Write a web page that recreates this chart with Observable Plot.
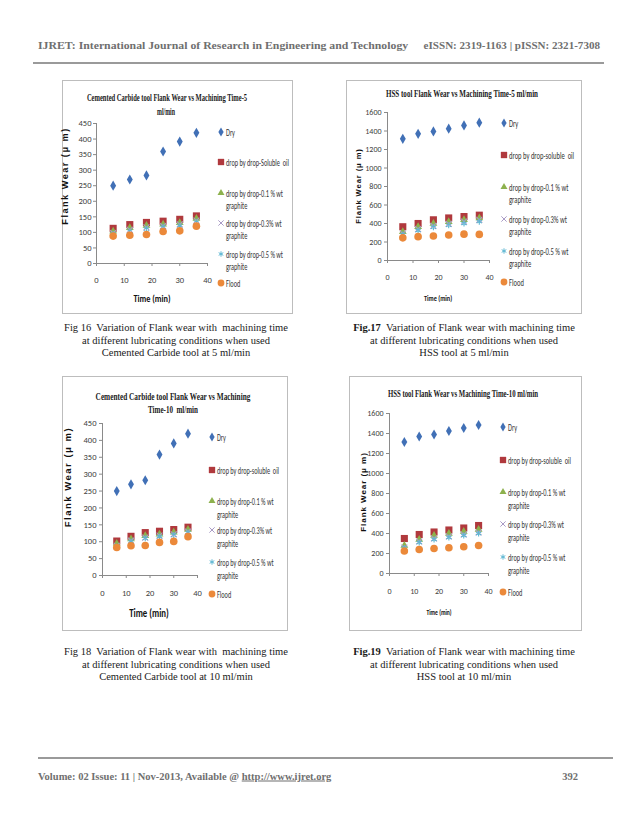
<!DOCTYPE html>
<html><head><meta charset="utf-8">
<script src="https://cdn.jsdelivr.net/npm/d3@7"></script>
<script src="https://cdn.jsdelivr.net/npm/@observablehq/plot@0.6"></script>
<style>
html,body{margin:0;padding:0;background:#fff;}
#page{position:relative;width:638px;height:826px;overflow:hidden;background:#fff;}
.a{position:absolute;white-space:pre;line-height:1;}
</style></head><body><div id="page"></div>
<script>
// ---------- data ----------
const time = [6, 12, 18, 24, 30, 36];
const xTicks = [0, 10, 20, 30, 40];

// Fig 16: Cemented Carbide, 5 ml/min
const cc5Dry   = [250, 270, 283, 360, 392, 420];
const cc5Oil   = [113, 125, 132, 136, 142, 153];
const cc5G01   = [104, 115, 122, 126, 131, 145];
const cc5G03   = [98, 108, 116, 120, 126, 138];
const cc5G05   = [95, 104, 111, 117, 121, 133];
const cc5Flood = [88, 91, 93, 103, 105, 120];

// Fig 17: HSS, 5 ml/min
const hss5Dry   = [1315, 1370, 1395, 1425, 1460, 1490];
const hss5Oil   = [365, 400, 440, 460, 475, 490];
const hss5G01   = [310, 365, 400, 420, 440, 460];
const hss5G03   = [290, 340, 375, 395, 420, 440];
const hss5G05   = [280, 325, 360, 380, 400, 420];
const hss5Flood = [245, 258, 265, 275, 285, 282];

// Fig 18: Cemented Carbide, 10 ml/min
const cc10Dry   = [250, 270, 282, 358, 391, 420];
const cc10Oil   = [102, 116, 127, 131, 136, 143];
const cc10G01   = [95, 108, 118, 122, 128, 136];
const cc10G03   = [88, 103, 112, 118, 122, 130];
const cc10G05   = [85, 100, 110, 115, 120, 127];
const cc10Flood = [83, 88, 89, 98, 101, 115];

// Fig 19: HSS, 10 ml/min
const hss10Dry   = [1315, 1370, 1390, 1425, 1455, 1485];
const hss10Oil   = [350, 390, 415, 435, 455, 480];
const hss10G01   = [280, 340, 380, 400, 420, 440];
const hss10G03   = [260, 320, 350, 370, 390, 410];
const hss10G05   = [255, 310, 340, 360, 380, 400];
const hss10Flood = [225, 240, 250, 258, 268, 280];

const ccTicks  = [0, 50, 100, 150, 200, 250, 300, 350, 400, 450];
const hssTicks = [0, 200, 400, 600, 800, 1000, 1200, 1400, 1600];

const legendUpper = ["Dry", "drop by drop-Soluble  oil", ["drop by drop-0.1 % wt", "graphite"], ["drop by drop-0.3% wt", "graphite"], ["drop by drop-0.5 % wt", "graphite"], "Flood"];
const legendLower = ["Dry", "drop by drop-soluble  oil", ["drop by drop-0.1 % wt", "graphite"], ["drop by drop-0.3% wt", "graphite"], ["drop by drop-0.5 % wt", "graphite"], "Flood"];

// ---------- styles ----------
const seriesStyle = [
  {symbol: "diamond",  color: "#4170b6", r: 3.1, filled: true},
  {symbol: "square",   color: "#b0393d", r: 4.0, filled: true},
  {symbol: "triangle", color: "#8db14d", r: 2.9, filled: true},
  {symbol: "times",    color: "#a99bc6", r: 2.8, filled: false},
  {symbol: "asterisk", color: "#5cb6d2", r: 2.8, filled: false},
  {symbol: "circle",   color: "#eb893a", r: 3.8, filled: true}
];
const symMap = {diamond: d3.symbolDiamond, square: d3.symbolSquare, triangle: d3.symbolTriangle,
  times: d3.symbolTimes, asterisk: d3.symbolAsterisk, circle: d3.symbolCircle};

const page = document.getElementById("page");
const NARROW = 'Carlito,Roboto,"Liberation Sans",sans-serif';
const SERIF = '"Liberation Serif","Times New Roman",serif';
const SANS = '"Liberation Sans",Arial,sans-serif';

function T(x, y, s, css, anchor = "start", fitW = null, rot = false, kFixed = null) {
  const d = document.createElement("div");
  d.className = "a";
  d.textContent = s;
  Object.assign(d.style, css);
  d.style.left = x + "px";
  d.style.top = y + "px";
  page.appendChild(d);
  const tx = anchor === "middle" ? "-50%" : anchor === "end" ? "-100%" : "0";
  let k = 1;
  if (fitW) k = fitW / d.offsetWidth;
  if (kFixed) k = kFixed;
  d.style.transformOrigin = anchor === "middle" ? "50% 50%" : anchor === "end" ? "100% 50%" : "0 50%";
  d.style.transform = `translate(${tx},-50%)` + (rot ? " rotate(-90deg)" : "") + ` scaleX(${k})`;
  return d;
}
function measure(s, css) {
  const d = document.createElement("div");
  d.className = "a"; d.textContent = s; Object.assign(d.style, css);
  d.style.visibility = "hidden";
  page.appendChild(d);
  const w = d.offsetWidth; d.remove(); return w;
}
function box(x, y, w, h) {
  const d = document.createElement("div");
  Object.assign(d.style, {position: "absolute", left: x + "px", top: y + "px", width: w + "px", height: h + "px",
    border: "1px solid #bdbdbd", boxSizing: "border-box"});
  page.appendChild(d);
}
function hr(x1, x2, y, c = "#9a9a9a", t = 1.6) {
  const d = document.createElement("div");
  Object.assign(d.style, {position: "absolute", left: x1 + "px", top: y + "px", width: (x2 - x1) + "px", height: t + "px", background: c});
  page.appendChild(d);
}
function marker(x, y, st) {
  const svg = d3.create("svg").attr("width", 12).attr("height", 12)
    .style("position", "absolute").style("left", (x - 6) + "px").style("top", (y - 6) + "px").style("overflow", "visible");
  svg.append("path").attr("transform", "translate(6,6)")
    .attr("d", d3.symbol(symMap[st.symbol], st.r * st.r * Math.PI * 0.8)())
    .attr("fill", st.filled ? st.color : "none")
    .attr("stroke", st.filled ? "none" : st.color).attr("stroke-width", 1);
  page.appendChild(svg.node());
}

function drawChart(c) {
  box(...c.box);
  c.titles.forEach(([s, x, y, w]) => T(x, y, s, {font: `bold ${c.titleSize}px ${SERIF}`, color: "#1a1a1a"}, "middle", w));
  const mL = 30, mR = 4, mT = 6, mB = 26;
  const w = c.x40 - c.x0, h = c.y0 - c.yTop;
  const marks = [
    Plot.ruleY([0], {stroke: "#8a8a8a"}),
    Plot.ruleX([0], {stroke: "#8a8a8a"}),
    Plot.axisX({ticks: xTicks, tickSize: 3, tickPadding: c.xPad, stroke: "#8a8a8a", tickFormat: d3.format("d"), label: null}),
    Plot.axisY({ticks: c.yTicks, tickSize: 3, tickPadding: c.yPad, stroke: "#8a8a8a", tickFormat: d3.format("d"), label: null})
  ];
  c.series.forEach((vals, i) => {
    const st = seriesStyle[i];
    const data = time.map((t, j) => ({t, v: vals[j]}));
    marks.push(Plot.dot(data, {x: "t", y: "v", symbol: st.symbol, r: st.r,
      fill: st.filled ? st.color : "none", stroke: st.filled ? "none" : st.color, strokeWidth: 1.1}));
  });
  const svg = Plot.plot({
    width: w + mL + mR, height: h + mT + mB,
    marginLeft: mL, marginRight: mR, marginTop: mT, marginBottom: mB,
    x: {domain: [0, 40]}, y: {domain: [0, c.yTicks[c.yTicks.length - 1]]},
    style: {fontFamily: NARROW, fontSize: c.tickSize + "px", color: "#404040", background: "transparent", overflow: "visible"},
    marks
  });
  svg.style.position = "absolute";
  svg.style.left = (c.x0 - mL) + "px";
  svg.style.top = (c.yTop - mT) + "px";
  page.appendChild(svg);
  // axis titles
  T(c.ylab[0], c.ylab[1], "Flank Wear (\u03bc m)", {font: `bold ${c.ylabSize}px ${SANS}`, letterSpacing: c.ylabLS + "px", color: "#111"}, "middle", c.ylab[2], true);
  T(c.xlab[0], c.xlab[1], "Time (min)", {font: `bold ${c.xlabSize}px ${NARROW}`, color: "#111"}, "middle", c.xlab[2]);
  // legend
  const legCss = {font: `${c.legSize}px ${NARROW}`, color: "#333"};
  const k = c.legRefW / measure(c.legend[1], legCss);
  c.legend.forEach((lab, i) => {
    const y = c.legY[i];
    marker(c.legX, y, seriesStyle[i]);
    const lines = Array.isArray(lab) ? lab : [lab];
    lines.forEach((s, j) => T(c.legX + 5, y + j * c.legLine, s, legCss, "start", null, false, k));
  });
}

// ---------- page header ----------
T(38, 45, "IJRET: International Journal of Research in Engineering and Technology", {font: `bold 11px ${SERIF}`, color: "#6f6f6f"}, "start", 370);
T(600, 45, "eISSN: 2319-1163 | pISSN: 2321-7308", {font: `bold 11px ${SERIF}`, color: "#6f6f6f"}, "end", 176);
hr(33, 604, 62);

drawChart({
  box: [62, 80, 231, 234],
  titles: [["Cemented Carbide tool Flank Wear vs Machining Time-5", 167, 97, 160], ["ml/min", 166, 111, 18]],
  titleSize: 10.5,
  series: [cc5Dry, cc5Oil, cc5G01, cc5G03, cc5G05, cc5Flood], yTicks: ccTicks,
  x0: 96, x40: 207, yTop: 123, y0: 263, xPad: 10, yPad: 2, tickSize: 8.5,
  ylab: [64, 176, 97], ylabSize: 9.5, ylabLS: 1.5,
  xlab: [152, 298, 37], xlabSize: 10.5,
  legend: legendUpper, legX: 221, legY: [132, 162, 193, 223, 254, 283], legLine: 12, legSize: 10, legRefW: 63
});
drawChart({
  box: [346, 80, 236, 234],
  titles: [["HSS tool Flank Wear vs Machining Time-5 ml/min", 462, 93, 152]],
  titleSize: 10.5,
  series: [hss5Dry, hss5Oil, hss5G01, hss5G03, hss5G05, hss5Flood], yTicks: hssTicks,
  x0: 387, x40: 489, yTop: 112, y0: 260, xPad: 11, yPad: 3, tickSize: 8,
  ylab: [358, 186, 75], ylabSize: 6.8, ylabLS: 0.8,
  xlab: [438, 298, 28], xlabSize: 8.5,
  legend: legendLower, legX: 504, legY: [123, 155, 187, 219, 251, 282], legLine: 12, legSize: 10, legRefW: 65
});
drawChart({
  box: [62, 376, 226, 255],
  titles: [["Cemented Carbide tool Flank Wear vs Machining", 173, 396, 155], ["Time-10  ml/min", 173, 409, 50]],
  titleSize: 11,
  series: [cc10Dry, cc10Oil, cc10G01, cc10G03, cc10G05, cc10Flood], yTicks: ccTicks,
  x0: 102, x40: 197, yTop: 423, y0: 575, xPad: 11, yPad: 3, tickSize: 8.5,
  ylab: [67, 477, 100], ylabSize: 9.5, ylabLS: 1.5,
  xlab: [149, 613, 40], xlabSize: 11,
  legend: legendLower, legX: 212, legY: [437, 470, 501, 530, 562, 594], legLine: 12.5, legSize: 10.2, legRefW: 62
});
drawChart({
  box: [349, 376, 233, 255],
  titles: [["HSS tool Flank Wear vs Machining Time-10 ml/min", 463, 393, 150]],
  titleSize: 10.5,
  series: [hss10Dry, hss10Oil, hss10G01, hss10G03, hss10G05, hss10Flood], yTicks: hssTicks,
  x0: 389, x40: 488, yTop: 413, y0: 573, xPad: 12, yPad: 3, tickSize: 8,
  ylab: [363, 492, 79], ylabSize: 6.8, ylabLS: 0.8,
  xlab: [439, 612, 25], xlabSize: 8,
  legend: legendLower, legX: 503, legY: [427, 460, 492, 524, 557, 592], legLine: 13, legSize: 10.2, legRefW: 63
});

// ---------- captions ----------
const capCss = {font: `10.5px ${SERIF}`, color: "#1a1a1a"};
function caption(x, y, lines, boldLead) {
  lines.forEach((s, i) => {
    const d = T(x, y + i * 12.5, "", capCss, "middle");
    if (i === 0 && boldLead) {
      const b = document.createElement("b"); b.textContent = boldLead; d.appendChild(b);
    }
    d.appendChild(document.createTextNode(s));
  });
}
caption(176, 327, ["Fig 16  Variation of Flank wear with  machining time", "at different lubricating conditions when used", "Cemented Carbide tool at 5 ml/min"]);
caption(464, 327, ["  Variation of Flank wear with machining time", "at different lubricating conditions when used", "HSS tool at 5 ml/min"], "Fig.17");
caption(176, 651, ["Fig 18  Variation of Flank wear with  machining time", "at different lubricating conditions when used", "Cemented Carbide tool at 10 ml/min"]);
caption(464, 651, ["  Variation of Flank wear with machining time", "at different lubricating conditions when used", "HSS tool at 10 ml/min"], "Fig.19");

// ---------- footer ----------
hr(38, 613, 757);
const f = T(38, 776, "Volume: 02 Issue: 11 | Nov-2013, Available @ ", {font: `bold 10.5px ${SERIF}`, color: "#6f6f6f"});
const u = document.createElement("u"); u.textContent = "http://www.ijret.org"; f.appendChild(u);
T(578, 776, "392", {font: `bold 10.5px ${SERIF}`, color: "#6f6f6f"}, "end");
</script>
</body></html>
